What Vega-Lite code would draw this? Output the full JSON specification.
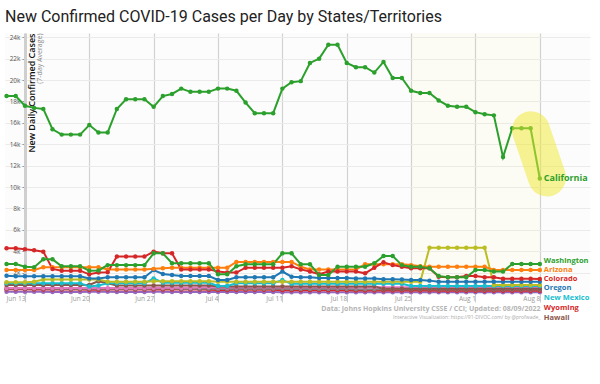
{
"$schema":"https://vega.github.io/schema/vega-lite/v6.json",
"width":585,"height":261,
"autosize":{"type":"none"},
"padding":{"left":5,"top":33,"right":10,"bottom":90},
"background":"white",
"title":{"text":"New Confirmed COVID-19 Cases per Day by States/Territories","anchor":"start","frame":"group","fontSize":16,"font":"Roboto","fontWeight":400,"color":"#222","offset":8},
"config":{"view":{"stroke":null,"fill":"#fcfcfc"},"font":"Open Sans"},
"datasets":{
"names":[{"s":"CA","name":"California"},{"s":"WA","name":"Washington"},{"s":"AZ","name":"Arizona"},{"s":"CO","name":"Colorado"},{"s":"OR","name":"Oregon"},{"s":"WY","name":"Wyoming"},{"s":"NM","name":"New Mexico"},{"s":"HI","name":"Hawaii"}],
"band":[{"a":"2022-07-25","b":"2022-08-08"}],
"hl":[{"d":"2022-08-07T01:00:00Z","v":15300},{"d":"2022-08-08T18:50:00Z","v":10900}],
"series":[
{"s":"AK","d":"2022-06-11","v":200},{"s":"AK","d":"2022-06-12","v":200},{"s":"AK","d":"2022-06-13","v":210},{"s":"AK","d":"2022-06-14","v":210},{"s":"AK","d":"2022-06-15","v":200},{"s":"AK","d":"2022-06-16","v":190},{"s":"AK","d":"2022-06-17","v":190},{"s":"AK","d":"2022-06-18","v":190},{"s":"AK","d":"2022-06-19","v":190},{"s":"AK","d":"2022-06-20","v":200},{"s":"AK","d":"2022-06-21","v":200},{"s":"AK","d":"2022-06-22","v":200},{"s":"AK","d":"2022-06-23","v":190},{"s":"AK","d":"2022-06-24","v":190},{"s":"AK","d":"2022-06-25","v":190},{"s":"AK","d":"2022-06-26","v":190},{"s":"AK","d":"2022-06-27","v":200},{"s":"AK","d":"2022-06-28","v":200},{"s":"AK","d":"2022-06-29","v":190},{"s":"AK","d":"2022-06-30","v":190},{"s":"AK","d":"2022-07-01","v":190},{"s":"AK","d":"2022-07-02","v":190},{"s":"AK","d":"2022-07-03","v":180},{"s":"AK","d":"2022-07-04","v":180},{"s":"AK","d":"2022-07-05","v":180},{"s":"AK","d":"2022-07-06","v":190},{"s":"AK","d":"2022-07-07","v":190},{"s":"AK","d":"2022-07-08","v":190},{"s":"AK","d":"2022-07-09","v":190},{"s":"AK","d":"2022-07-10","v":190},{"s":"AK","d":"2022-07-11","v":170},{"s":"AK","d":"2022-07-12","v":170},{"s":"AK","d":"2022-07-13","v":170},{"s":"AK","d":"2022-07-14","v":170},{"s":"AK","d":"2022-07-15","v":170},{"s":"AK","d":"2022-07-16","v":170},{"s":"AK","d":"2022-07-17","v":170},{"s":"AK","d":"2022-07-18","v":160},{"s":"AK","d":"2022-07-19","v":160},{"s":"AK","d":"2022-07-20","v":160},{"s":"AK","d":"2022-07-21","v":160},{"s":"AK","d":"2022-07-22","v":170},{"s":"AK","d":"2022-07-23","v":170},{"s":"AK","d":"2022-07-24","v":170},{"s":"AK","d":"2022-07-25","v":170},{"s":"AK","d":"2022-07-26","v":170},{"s":"AK","d":"2022-07-27","v":170},{"s":"AK","d":"2022-07-28","v":170},{"s":"AK","d":"2022-07-29","v":160},{"s":"AK","d":"2022-07-30","v":160},{"s":"AK","d":"2022-07-31","v":160},{"s":"AK","d":"2022-08-01","v":160},{"s":"AK","d":"2022-08-02","v":160},{"s":"AK","d":"2022-08-03","v":160},{"s":"AK","d":"2022-08-04","v":160},{"s":"AK","d":"2022-08-05","v":160},{"s":"AK","d":"2022-08-06","v":160},{"s":"AK","d":"2022-08-07","v":160},{"s":"AK","d":"2022-08-08","v":160},
{"s":"WY","d":"2022-06-11","v":450},{"s":"WY","d":"2022-06-12","v":450},{"s":"WY","d":"2022-06-13","v":440},{"s":"WY","d":"2022-06-14","v":430},{"s":"WY","d":"2022-06-15","v":430},{"s":"WY","d":"2022-06-16","v":420},{"s":"WY","d":"2022-06-17","v":420},{"s":"WY","d":"2022-06-18","v":420},{"s":"WY","d":"2022-06-19","v":420},{"s":"WY","d":"2022-06-20","v":400},{"s":"WY","d":"2022-06-21","v":400},{"s":"WY","d":"2022-06-22","v":410},{"s":"WY","d":"2022-06-23","v":420},{"s":"WY","d":"2022-06-24","v":420},{"s":"WY","d":"2022-06-25","v":420},{"s":"WY","d":"2022-06-26","v":420},{"s":"WY","d":"2022-06-27","v":430},{"s":"WY","d":"2022-06-28","v":430},{"s":"WY","d":"2022-06-29","v":420},{"s":"WY","d":"2022-06-30","v":420},{"s":"WY","d":"2022-07-01","v":420},{"s":"WY","d":"2022-07-02","v":420},{"s":"WY","d":"2022-07-03","v":400},{"s":"WY","d":"2022-07-04","v":380},{"s":"WY","d":"2022-07-05","v":380},{"s":"WY","d":"2022-07-06","v":400},{"s":"WY","d":"2022-07-07","v":400},{"s":"WY","d":"2022-07-08","v":400},{"s":"WY","d":"2022-07-09","v":400},{"s":"WY","d":"2022-07-10","v":400},{"s":"WY","d":"2022-07-11","v":360},{"s":"WY","d":"2022-07-12","v":360},{"s":"WY","d":"2022-07-13","v":350},{"s":"WY","d":"2022-07-14","v":350},{"s":"WY","d":"2022-07-15","v":340},{"s":"WY","d":"2022-07-16","v":340},{"s":"WY","d":"2022-07-17","v":340},{"s":"WY","d":"2022-07-18","v":340},{"s":"WY","d":"2022-07-19","v":330},{"s":"WY","d":"2022-07-20","v":330},{"s":"WY","d":"2022-07-21","v":330},{"s":"WY","d":"2022-07-22","v":330},{"s":"WY","d":"2022-07-23","v":330},{"s":"WY","d":"2022-07-24","v":320},{"s":"WY","d":"2022-07-25","v":320},{"s":"WY","d":"2022-07-26","v":320},{"s":"WY","d":"2022-07-27","v":320},{"s":"WY","d":"2022-07-28","v":310},{"s":"WY","d":"2022-07-29","v":310},{"s":"WY","d":"2022-07-30","v":310},{"s":"WY","d":"2022-07-31","v":310},{"s":"WY","d":"2022-08-01","v":310},{"s":"WY","d":"2022-08-02","v":310},{"s":"WY","d":"2022-08-03","v":300},{"s":"WY","d":"2022-08-04","v":300},{"s":"WY","d":"2022-08-05","v":300},{"s":"WY","d":"2022-08-06","v":300},{"s":"WY","d":"2022-08-07","v":300},{"s":"WY","d":"2022-08-08","v":300},
{"s":"ID","d":"2022-06-11","v":520},{"s":"ID","d":"2022-06-12","v":520},{"s":"ID","d":"2022-06-13","v":510},{"s":"ID","d":"2022-06-14","v":510},{"s":"ID","d":"2022-06-15","v":510},{"s":"ID","d":"2022-06-16","v":500},{"s":"ID","d":"2022-06-17","v":500},{"s":"ID","d":"2022-06-18","v":500},{"s":"ID","d":"2022-06-19","v":500},{"s":"ID","d":"2022-06-20","v":480},{"s":"ID","d":"2022-06-21","v":480},{"s":"ID","d":"2022-06-22","v":500},{"s":"ID","d":"2022-06-23","v":500},{"s":"ID","d":"2022-06-24","v":500},{"s":"ID","d":"2022-06-25","v":500},{"s":"ID","d":"2022-06-26","v":500},{"s":"ID","d":"2022-06-27","v":520},{"s":"ID","d":"2022-06-28","v":510},{"s":"ID","d":"2022-06-29","v":510},{"s":"ID","d":"2022-06-30","v":500},{"s":"ID","d":"2022-07-01","v":500},{"s":"ID","d":"2022-07-02","v":500},{"s":"ID","d":"2022-07-03","v":500},{"s":"ID","d":"2022-07-04","v":460},{"s":"ID","d":"2022-07-05","v":460},{"s":"ID","d":"2022-07-06","v":480},{"s":"ID","d":"2022-07-07","v":480},{"s":"ID","d":"2022-07-08","v":480},{"s":"ID","d":"2022-07-09","v":480},{"s":"ID","d":"2022-07-10","v":480},{"s":"ID","d":"2022-07-11","v":480},{"s":"ID","d":"2022-07-12","v":470},{"s":"ID","d":"2022-07-13","v":470},{"s":"ID","d":"2022-07-14","v":470},{"s":"ID","d":"2022-07-15","v":460},{"s":"ID","d":"2022-07-16","v":460},{"s":"ID","d":"2022-07-17","v":460},{"s":"ID","d":"2022-07-18","v":460},{"s":"ID","d":"2022-07-19","v":450},{"s":"ID","d":"2022-07-20","v":450},{"s":"ID","d":"2022-07-21","v":450},{"s":"ID","d":"2022-07-22","v":450},{"s":"ID","d":"2022-07-23","v":450},{"s":"ID","d":"2022-07-24","v":440},{"s":"ID","d":"2022-07-25","v":440},{"s":"ID","d":"2022-07-26","v":440},{"s":"ID","d":"2022-07-27","v":440},{"s":"ID","d":"2022-07-28","v":430},{"s":"ID","d":"2022-07-29","v":430},{"s":"ID","d":"2022-07-30","v":430},{"s":"ID","d":"2022-07-31","v":430},{"s":"ID","d":"2022-08-01","v":430},{"s":"ID","d":"2022-08-02","v":430},{"s":"ID","d":"2022-08-03","v":420},{"s":"ID","d":"2022-08-04","v":420},{"s":"ID","d":"2022-08-05","v":420},{"s":"ID","d":"2022-08-06","v":420},{"s":"ID","d":"2022-08-07","v":420},{"s":"ID","d":"2022-08-08","v":420},
{"s":"NV","d":"2022-06-11","v":560},{"s":"NV","d":"2022-06-12","v":560},{"s":"NV","d":"2022-06-13","v":560},{"s":"NV","d":"2022-06-14","v":560},{"s":"NV","d":"2022-06-15","v":560},{"s":"NV","d":"2022-06-16","v":550},{"s":"NV","d":"2022-06-17","v":550},{"s":"NV","d":"2022-06-18","v":550},{"s":"NV","d":"2022-06-19","v":550},{"s":"NV","d":"2022-06-20","v":550},{"s":"NV","d":"2022-06-21","v":550},{"s":"NV","d":"2022-06-22","v":550},{"s":"NV","d":"2022-06-23","v":560},{"s":"NV","d":"2022-06-24","v":560},{"s":"NV","d":"2022-06-25","v":560},{"s":"NV","d":"2022-06-26","v":560},{"s":"NV","d":"2022-06-27","v":580},{"s":"NV","d":"2022-06-28","v":580},{"s":"NV","d":"2022-06-29","v":580},{"s":"NV","d":"2022-06-30","v":580},{"s":"NV","d":"2022-07-01","v":580},{"s":"NV","d":"2022-07-02","v":620},{"s":"NV","d":"2022-07-03","v":620},{"s":"NV","d":"2022-07-04","v":600},{"s":"NV","d":"2022-07-05","v":600},{"s":"NV","d":"2022-07-06","v":620},{"s":"NV","d":"2022-07-07","v":620},{"s":"NV","d":"2022-07-08","v":620},{"s":"NV","d":"2022-07-09","v":620},{"s":"NV","d":"2022-07-10","v":620},{"s":"NV","d":"2022-07-11","v":640},{"s":"NV","d":"2022-07-12","v":640},{"s":"NV","d":"2022-07-13","v":630},{"s":"NV","d":"2022-07-14","v":630},{"s":"NV","d":"2022-07-15","v":630},{"s":"NV","d":"2022-07-16","v":630},{"s":"NV","d":"2022-07-17","v":630},{"s":"NV","d":"2022-07-18","v":640},{"s":"NV","d":"2022-07-19","v":640},{"s":"NV","d":"2022-07-20","v":640},{"s":"NV","d":"2022-07-21","v":640},{"s":"NV","d":"2022-07-22","v":640},{"s":"NV","d":"2022-07-23","v":640},{"s":"NV","d":"2022-07-24","v":640},{"s":"NV","d":"2022-07-25","v":640},{"s":"NV","d":"2022-07-26","v":650},{"s":"NV","d":"2022-07-27","v":650},{"s":"NV","d":"2022-07-28","v":650},{"s":"NV","d":"2022-07-29","v":650},{"s":"NV","d":"2022-07-30","v":650},{"s":"NV","d":"2022-07-31","v":650},{"s":"NV","d":"2022-08-01","v":650},{"s":"NV","d":"2022-08-02","v":650},{"s":"NV","d":"2022-08-03","v":650},{"s":"NV","d":"2022-08-04","v":650},{"s":"NV","d":"2022-08-05","v":650},{"s":"NV","d":"2022-08-06","v":650},{"s":"NV","d":"2022-08-07","v":650},{"s":"NV","d":"2022-08-08","v":650},
{"s":"HI","d":"2022-06-11","v":850},{"s":"HI","d":"2022-06-12","v":850},{"s":"HI","d":"2022-06-13","v":850},{"s":"HI","d":"2022-06-14","v":850},{"s":"HI","d":"2022-06-15","v":850},{"s":"HI","d":"2022-06-16","v":850},{"s":"HI","d":"2022-06-17","v":850},{"s":"HI","d":"2022-06-18","v":850},{"s":"HI","d":"2022-06-19","v":850},{"s":"HI","d":"2022-06-20","v":850},{"s":"HI","d":"2022-06-21","v":1200},{"s":"HI","d":"2022-06-22","v":1000},{"s":"HI","d":"2022-06-23","v":800},{"s":"HI","d":"2022-06-24","v":800},{"s":"HI","d":"2022-06-25","v":800},{"s":"HI","d":"2022-06-26","v":800},{"s":"HI","d":"2022-06-27","v":800},{"s":"HI","d":"2022-06-28","v":800},{"s":"HI","d":"2022-06-29","v":800},{"s":"HI","d":"2022-06-30","v":800},{"s":"HI","d":"2022-07-01","v":800},{"s":"HI","d":"2022-07-02","v":800},{"s":"HI","d":"2022-07-03","v":800},{"s":"HI","d":"2022-07-04","v":700},{"s":"HI","d":"2022-07-05","v":700},{"s":"HI","d":"2022-07-06","v":700},{"s":"HI","d":"2022-07-07","v":700},{"s":"HI","d":"2022-07-08","v":700},{"s":"HI","d":"2022-07-09","v":700},{"s":"HI","d":"2022-07-10","v":700},{"s":"HI","d":"2022-07-11","v":700},{"s":"HI","d":"2022-07-12","v":700},{"s":"HI","d":"2022-07-13","v":700},{"s":"HI","d":"2022-07-14","v":700},{"s":"HI","d":"2022-07-15","v":700},{"s":"HI","d":"2022-07-16","v":700},{"s":"HI","d":"2022-07-17","v":700},{"s":"HI","d":"2022-07-18","v":700},{"s":"HI","d":"2022-07-19","v":700},{"s":"HI","d":"2022-07-20","v":700},{"s":"HI","d":"2022-07-21","v":700},{"s":"HI","d":"2022-07-22","v":500},{"s":"HI","d":"2022-07-23","v":500},{"s":"HI","d":"2022-07-24","v":500},{"s":"HI","d":"2022-07-25","v":500},{"s":"HI","d":"2022-07-26","v":500},{"s":"HI","d":"2022-07-27","v":500},{"s":"HI","d":"2022-07-28","v":500},{"s":"HI","d":"2022-07-29","v":500},{"s":"HI","d":"2022-07-30","v":500},{"s":"HI","d":"2022-07-31","v":500},{"s":"HI","d":"2022-08-01","v":500},{"s":"HI","d":"2022-08-02","v":500},{"s":"HI","d":"2022-08-03","v":500},{"s":"HI","d":"2022-08-04","v":500},{"s":"HI","d":"2022-08-05","v":500},{"s":"HI","d":"2022-08-06","v":500},{"s":"HI","d":"2022-08-07","v":500},{"s":"HI","d":"2022-08-08","v":500},
{"s":"NM","d":"2022-06-11","v":1000},{"s":"NM","d":"2022-06-12","v":1000},{"s":"NM","d":"2022-06-13","v":1000},{"s":"NM","d":"2022-06-14","v":1000},{"s":"NM","d":"2022-06-15","v":1000},{"s":"NM","d":"2022-06-16","v":1000},{"s":"NM","d":"2022-06-17","v":1000},{"s":"NM","d":"2022-06-18","v":1000},{"s":"NM","d":"2022-06-19","v":1000},{"s":"NM","d":"2022-06-20","v":700},{"s":"NM","d":"2022-06-21","v":800},{"s":"NM","d":"2022-06-22","v":1000},{"s":"NM","d":"2022-06-23","v":1000},{"s":"NM","d":"2022-06-24","v":1000},{"s":"NM","d":"2022-06-25","v":1000},{"s":"NM","d":"2022-06-26","v":1000},{"s":"NM","d":"2022-06-27","v":1460},{"s":"NM","d":"2022-06-28","v":1050},{"s":"NM","d":"2022-06-29","v":1050},{"s":"NM","d":"2022-06-30","v":1050},{"s":"NM","d":"2022-07-01","v":1050},{"s":"NM","d":"2022-07-02","v":1050},{"s":"NM","d":"2022-07-03","v":1050},{"s":"NM","d":"2022-07-04","v":750},{"s":"NM","d":"2022-07-05","v":750},{"s":"NM","d":"2022-07-06","v":1000},{"s":"NM","d":"2022-07-07","v":1000},{"s":"NM","d":"2022-07-08","v":1000},{"s":"NM","d":"2022-07-09","v":1000},{"s":"NM","d":"2022-07-10","v":1000},{"s":"NM","d":"2022-07-11","v":1300},{"s":"NM","d":"2022-07-12","v":950},{"s":"NM","d":"2022-07-13","v":950},{"s":"NM","d":"2022-07-14","v":950},{"s":"NM","d":"2022-07-15","v":950},{"s":"NM","d":"2022-07-16","v":950},{"s":"NM","d":"2022-07-17","v":950},{"s":"NM","d":"2022-07-18","v":950},{"s":"NM","d":"2022-07-19","v":950},{"s":"NM","d":"2022-07-20","v":950},{"s":"NM","d":"2022-07-21","v":950},{"s":"NM","d":"2022-07-22","v":950},{"s":"NM","d":"2022-07-23","v":950},{"s":"NM","d":"2022-07-24","v":950},{"s":"NM","d":"2022-07-25","v":750},{"s":"NM","d":"2022-07-26","v":750},{"s":"NM","d":"2022-07-27","v":750},{"s":"NM","d":"2022-07-28","v":750},{"s":"NM","d":"2022-07-29","v":750},{"s":"NM","d":"2022-07-30","v":750},{"s":"NM","d":"2022-07-31","v":750},{"s":"NM","d":"2022-08-01","v":750},{"s":"NM","d":"2022-08-02","v":750},{"s":"NM","d":"2022-08-03","v":750},{"s":"NM","d":"2022-08-04","v":750},{"s":"NM","d":"2022-08-05","v":750},{"s":"NM","d":"2022-08-06","v":750},{"s":"NM","d":"2022-08-07","v":750},{"s":"NM","d":"2022-08-08","v":750},
{"s":"UT","d":"2022-06-11","v":1100},{"s":"UT","d":"2022-06-12","v":1100},{"s":"UT","d":"2022-06-13","v":1100},{"s":"UT","d":"2022-06-14","v":1150},{"s":"UT","d":"2022-06-15","v":1350},{"s":"UT","d":"2022-06-16","v":1350},{"s":"UT","d":"2022-06-17","v":1350},{"s":"UT","d":"2022-06-18","v":1350},{"s":"UT","d":"2022-06-19","v":1350},{"s":"UT","d":"2022-06-20","v":1350},{"s":"UT","d":"2022-06-21","v":1350},{"s":"UT","d":"2022-06-22","v":1150},{"s":"UT","d":"2022-06-23","v":1150},{"s":"UT","d":"2022-06-24","v":1150},{"s":"UT","d":"2022-06-25","v":1150},{"s":"UT","d":"2022-06-26","v":1150},{"s":"UT","d":"2022-06-27","v":1200},{"s":"UT","d":"2022-06-28","v":1200},{"s":"UT","d":"2022-06-29","v":1200},{"s":"UT","d":"2022-06-30","v":1200},{"s":"UT","d":"2022-07-01","v":1200},{"s":"UT","d":"2022-07-02","v":1200},{"s":"UT","d":"2022-07-03","v":1200},{"s":"UT","d":"2022-07-04","v":1150},{"s":"UT","d":"2022-07-05","v":1150},{"s":"UT","d":"2022-07-06","v":1150},{"s":"UT","d":"2022-07-07","v":1150},{"s":"UT","d":"2022-07-08","v":1150},{"s":"UT","d":"2022-07-09","v":1150},{"s":"UT","d":"2022-07-10","v":1150},{"s":"UT","d":"2022-07-11","v":1150},{"s":"UT","d":"2022-07-12","v":1150},{"s":"UT","d":"2022-07-13","v":1150},{"s":"UT","d":"2022-07-14","v":1150},{"s":"UT","d":"2022-07-15","v":1150},{"s":"UT","d":"2022-07-16","v":1150},{"s":"UT","d":"2022-07-17","v":1150},{"s":"UT","d":"2022-07-18","v":1150},{"s":"UT","d":"2022-07-19","v":1150},{"s":"UT","d":"2022-07-20","v":1150},{"s":"UT","d":"2022-07-21","v":1150},{"s":"UT","d":"2022-07-22","v":1150},{"s":"UT","d":"2022-07-23","v":1150},{"s":"UT","d":"2022-07-24","v":1150},{"s":"UT","d":"2022-07-25","v":1150},{"s":"UT","d":"2022-07-26","v":1150},{"s":"UT","d":"2022-07-27","v":4330},{"s":"UT","d":"2022-07-28","v":4330},{"s":"UT","d":"2022-07-29","v":4330},{"s":"UT","d":"2022-07-30","v":4330},{"s":"UT","d":"2022-07-31","v":4330},{"s":"UT","d":"2022-08-01","v":4330},{"s":"UT","d":"2022-08-02","v":4330},{"s":"UT","d":"2022-08-03","v":840},{"s":"UT","d":"2022-08-04","v":840},{"s":"UT","d":"2022-08-05","v":840},{"s":"UT","d":"2022-08-06","v":840},{"s":"UT","d":"2022-08-07","v":840},{"s":"UT","d":"2022-08-08","v":840},
{"s":"OR","d":"2022-06-11","v":1710},{"s":"OR","d":"2022-06-12","v":1650},{"s":"OR","d":"2022-06-13","v":1650},{"s":"OR","d":"2022-06-14","v":1650},{"s":"OR","d":"2022-06-15","v":1650},{"s":"OR","d":"2022-06-16","v":1650},{"s":"OR","d":"2022-06-17","v":1650},{"s":"OR","d":"2022-06-18","v":1650},{"s":"OR","d":"2022-06-19","v":1650},{"s":"OR","d":"2022-06-20","v":1460},{"s":"OR","d":"2022-06-21","v":1460},{"s":"OR","d":"2022-06-22","v":1560},{"s":"OR","d":"2022-06-23","v":1560},{"s":"OR","d":"2022-06-24","v":1560},{"s":"OR","d":"2022-06-25","v":1560},{"s":"OR","d":"2022-06-26","v":1560},{"s":"OR","d":"2022-06-27","v":2240},{"s":"OR","d":"2022-06-28","v":1870},{"s":"OR","d":"2022-06-29","v":1780},{"s":"OR","d":"2022-06-30","v":1680},{"s":"OR","d":"2022-07-01","v":1680},{"s":"OR","d":"2022-07-02","v":1680},{"s":"OR","d":"2022-07-03","v":1680},{"s":"OR","d":"2022-07-04","v":1310},{"s":"OR","d":"2022-07-05","v":1310},{"s":"OR","d":"2022-07-06","v":1560},{"s":"OR","d":"2022-07-07","v":1560},{"s":"OR","d":"2022-07-08","v":1560},{"s":"OR","d":"2022-07-09","v":1560},{"s":"OR","d":"2022-07-10","v":1560},{"s":"OR","d":"2022-07-11","v":2100},{"s":"OR","d":"2022-07-12","v":1620},{"s":"OR","d":"2022-07-13","v":1560},{"s":"OR","d":"2022-07-14","v":1560},{"s":"OR","d":"2022-07-15","v":1500},{"s":"OR","d":"2022-07-16","v":1500},{"s":"OR","d":"2022-07-17","v":1500},{"s":"OR","d":"2022-07-18","v":1500},{"s":"OR","d":"2022-07-19","v":1450},{"s":"OR","d":"2022-07-20","v":1450},{"s":"OR","d":"2022-07-21","v":1450},{"s":"OR","d":"2022-07-22","v":1370},{"s":"OR","d":"2022-07-23","v":1370},{"s":"OR","d":"2022-07-24","v":1350},{"s":"OR","d":"2022-07-25","v":1310},{"s":"OR","d":"2022-07-26","v":1310},{"s":"OR","d":"2022-07-27","v":1250},{"s":"OR","d":"2022-07-28","v":1150},{"s":"OR","d":"2022-07-29","v":1150},{"s":"OR","d":"2022-07-30","v":1150},{"s":"OR","d":"2022-07-31","v":1150},{"s":"OR","d":"2022-08-01","v":1150},{"s":"OR","d":"2022-08-02","v":1150},{"s":"OR","d":"2022-08-03","v":1150},{"s":"OR","d":"2022-08-04","v":1150},{"s":"OR","d":"2022-08-05","v":1150},{"s":"OR","d":"2022-08-06","v":1150},{"s":"OR","d":"2022-08-07","v":1150},{"s":"OR","d":"2022-08-08","v":1150},
{"s":"AZ","d":"2022-06-11","v":2240},{"s":"AZ","d":"2022-06-12","v":2240},{"s":"AZ","d":"2022-06-13","v":2240},{"s":"AZ","d":"2022-06-14","v":2240},{"s":"AZ","d":"2022-06-15","v":2500},{"s":"AZ","d":"2022-06-16","v":2500},{"s":"AZ","d":"2022-06-17","v":2500},{"s":"AZ","d":"2022-06-18","v":2500},{"s":"AZ","d":"2022-06-19","v":2500},{"s":"AZ","d":"2022-06-20","v":2500},{"s":"AZ","d":"2022-06-21","v":2500},{"s":"AZ","d":"2022-06-22","v":2300},{"s":"AZ","d":"2022-06-23","v":2300},{"s":"AZ","d":"2022-06-24","v":2300},{"s":"AZ","d":"2022-06-25","v":2300},{"s":"AZ","d":"2022-06-26","v":2300},{"s":"AZ","d":"2022-06-27","v":2350},{"s":"AZ","d":"2022-06-28","v":2400},{"s":"AZ","d":"2022-06-29","v":2460},{"s":"AZ","d":"2022-06-30","v":2460},{"s":"AZ","d":"2022-07-01","v":2460},{"s":"AZ","d":"2022-07-02","v":2460},{"s":"AZ","d":"2022-07-03","v":2460},{"s":"AZ","d":"2022-07-04","v":2460},{"s":"AZ","d":"2022-07-05","v":2460},{"s":"AZ","d":"2022-07-06","v":3000},{"s":"AZ","d":"2022-07-07","v":3000},{"s":"AZ","d":"2022-07-08","v":3000},{"s":"AZ","d":"2022-07-09","v":3000},{"s":"AZ","d":"2022-07-10","v":3000},{"s":"AZ","d":"2022-07-11","v":3000},{"s":"AZ","d":"2022-07-12","v":3000},{"s":"AZ","d":"2022-07-13","v":2550},{"s":"AZ","d":"2022-07-14","v":2300},{"s":"AZ","d":"2022-07-15","v":2300},{"s":"AZ","d":"2022-07-16","v":2300},{"s":"AZ","d":"2022-07-17","v":2300},{"s":"AZ","d":"2022-07-18","v":2300},{"s":"AZ","d":"2022-07-19","v":2300},{"s":"AZ","d":"2022-07-20","v":2780},{"s":"AZ","d":"2022-07-21","v":2780},{"s":"AZ","d":"2022-07-22","v":2780},{"s":"AZ","d":"2022-07-23","v":2780},{"s":"AZ","d":"2022-07-24","v":2780},{"s":"AZ","d":"2022-07-25","v":2700},{"s":"AZ","d":"2022-07-26","v":2600},{"s":"AZ","d":"2022-07-27","v":2550},{"s":"AZ","d":"2022-07-28","v":2550},{"s":"AZ","d":"2022-07-29","v":2550},{"s":"AZ","d":"2022-07-30","v":2550},{"s":"AZ","d":"2022-07-31","v":2550},{"s":"AZ","d":"2022-08-01","v":2550},{"s":"AZ","d":"2022-08-02","v":2550},{"s":"AZ","d":"2022-08-03","v":2240},{"s":"AZ","d":"2022-08-04","v":2240},{"s":"AZ","d":"2022-08-05","v":2240},{"s":"AZ","d":"2022-08-06","v":2240},{"s":"AZ","d":"2022-08-07","v":2240},{"s":"AZ","d":"2022-08-08","v":2240},
{"s":"CO","d":"2022-06-11","v":4270},{"s":"CO","d":"2022-06-12","v":4270},{"s":"CO","d":"2022-06-13","v":4180},{"s":"CO","d":"2022-06-14","v":4100},{"s":"CO","d":"2022-06-15","v":3960},{"s":"CO","d":"2022-06-16","v":2340},{"s":"CO","d":"2022-06-17","v":2180},{"s":"CO","d":"2022-06-18","v":2180},{"s":"CO","d":"2022-06-19","v":2180},{"s":"CO","d":"2022-06-20","v":1840},{"s":"CO","d":"2022-06-21","v":2000},{"s":"CO","d":"2022-06-22","v":2030},{"s":"CO","d":"2022-06-23","v":3500},{"s":"CO","d":"2022-06-24","v":3500},{"s":"CO","d":"2022-06-25","v":3500},{"s":"CO","d":"2022-06-26","v":3500},{"s":"CO","d":"2022-06-27","v":3960},{"s":"CO","d":"2022-06-28","v":3800},{"s":"CO","d":"2022-06-29","v":3800},{"s":"CO","d":"2022-06-30","v":2300},{"s":"CO","d":"2022-07-01","v":2300},{"s":"CO","d":"2022-07-02","v":2300},{"s":"CO","d":"2022-07-03","v":2300},{"s":"CO","d":"2022-07-04","v":2100},{"s":"CO","d":"2022-07-05","v":2000},{"s":"CO","d":"2022-07-06","v":2000},{"s":"CO","d":"2022-07-07","v":2460},{"s":"CO","d":"2022-07-08","v":2460},{"s":"CO","d":"2022-07-09","v":2460},{"s":"CO","d":"2022-07-10","v":2460},{"s":"CO","d":"2022-07-11","v":2460},{"s":"CO","d":"2022-07-12","v":2600},{"s":"CO","d":"2022-07-13","v":2300},{"s":"CO","d":"2022-07-14","v":2100},{"s":"CO","d":"2022-07-15","v":1840},{"s":"CO","d":"2022-07-16","v":2100},{"s":"CO","d":"2022-07-17","v":2100},{"s":"CO","d":"2022-07-18","v":2100},{"s":"CO","d":"2022-07-19","v":2100},{"s":"CO","d":"2022-07-20","v":1930},{"s":"CO","d":"2022-07-21","v":2460},{"s":"CO","d":"2022-07-22","v":2960},{"s":"CO","d":"2022-07-23","v":2700},{"s":"CO","d":"2022-07-24","v":2550},{"s":"CO","d":"2022-07-25","v":2400},{"s":"CO","d":"2022-07-26","v":2400},{"s":"CO","d":"2022-07-27","v":2400},{"s":"CO","d":"2022-07-28","v":1620},{"s":"CO","d":"2022-07-29","v":1560},{"s":"CO","d":"2022-07-30","v":1560},{"s":"CO","d":"2022-07-31","v":1680},{"s":"CO","d":"2022-08-01","v":1680},{"s":"CO","d":"2022-08-02","v":1560},{"s":"CO","d":"2022-08-03","v":1560},{"s":"CO","d":"2022-08-04","v":1430},{"s":"CO","d":"2022-08-05","v":1430},{"s":"CO","d":"2022-08-06","v":1430},{"s":"CO","d":"2022-08-07","v":1430},{"s":"CO","d":"2022-08-08","v":1400},
{"s":"WA","d":"2022-06-11","v":2800},{"s":"WA","d":"2022-06-12","v":2800},{"s":"WA","d":"2022-06-13","v":2550},{"s":"WA","d":"2022-06-14","v":2500},{"s":"WA","d":"2022-06-15","v":3240},{"s":"WA","d":"2022-06-16","v":3240},{"s":"WA","d":"2022-06-17","v":2600},{"s":"WA","d":"2022-06-18","v":2600},{"s":"WA","d":"2022-06-19","v":2600},{"s":"WA","d":"2022-06-20","v":2180},{"s":"WA","d":"2022-06-21","v":2200},{"s":"WA","d":"2022-06-22","v":2700},{"s":"WA","d":"2022-06-23","v":2700},{"s":"WA","d":"2022-06-24","v":2700},{"s":"WA","d":"2022-06-25","v":2700},{"s":"WA","d":"2022-06-26","v":2700},{"s":"WA","d":"2022-06-27","v":3800},{"s":"WA","d":"2022-06-28","v":3800},{"s":"WA","d":"2022-06-29","v":2870},{"s":"WA","d":"2022-06-30","v":2870},{"s":"WA","d":"2022-07-01","v":2870},{"s":"WA","d":"2022-07-02","v":2870},{"s":"WA","d":"2022-07-03","v":2870},{"s":"WA","d":"2022-07-04","v":1840},{"s":"WA","d":"2022-07-05","v":1840},{"s":"WA","d":"2022-07-06","v":2600},{"s":"WA","d":"2022-07-07","v":2780},{"s":"WA","d":"2022-07-08","v":2780},{"s":"WA","d":"2022-07-09","v":2780},{"s":"WA","d":"2022-07-10","v":2780},{"s":"WA","d":"2022-07-11","v":3800},{"s":"WA","d":"2022-07-12","v":3800},{"s":"WA","d":"2022-07-13","v":2780},{"s":"WA","d":"2022-07-14","v":2780},{"s":"WA","d":"2022-07-15","v":1780},{"s":"WA","d":"2022-07-16","v":1780},{"s":"WA","d":"2022-07-17","v":2550},{"s":"WA","d":"2022-07-18","v":2550},{"s":"WA","d":"2022-07-19","v":2550},{"s":"WA","d":"2022-07-20","v":2550},{"s":"WA","d":"2022-07-21","v":2870},{"s":"WA","d":"2022-07-22","v":3550},{"s":"WA","d":"2022-07-23","v":3550},{"s":"WA","d":"2022-07-24","v":2700},{"s":"WA","d":"2022-07-25","v":2550},{"s":"WA","d":"2022-07-26","v":2550},{"s":"WA","d":"2022-07-27","v":2400},{"s":"WA","d":"2022-07-28","v":1680},{"s":"WA","d":"2022-07-29","v":1560},{"s":"WA","d":"2022-07-30","v":1560},{"s":"WA","d":"2022-07-31","v":1560},{"s":"WA","d":"2022-08-01","v":2240},{"s":"WA","d":"2022-08-02","v":2240},{"s":"WA","d":"2022-08-03","v":2100},{"s":"WA","d":"2022-08-04","v":2100},{"s":"WA","d":"2022-08-05","v":2800},{"s":"WA","d":"2022-08-06","v":2800},{"s":"WA","d":"2022-08-07","v":2800},{"s":"WA","d":"2022-08-08","v":2800},
{"s":"CA","d":"2022-06-11","v":18500},{"s":"CA","d":"2022-06-12","v":18500},{"s":"CA","d":"2022-06-13","v":17600},{"s":"CA","d":"2022-06-14","v":17400},{"s":"CA","d":"2022-06-15","v":17300},{"s":"CA","d":"2022-06-16","v":15400},{"s":"CA","d":"2022-06-17","v":14900},{"s":"CA","d":"2022-06-18","v":14900},{"s":"CA","d":"2022-06-19","v":14900},{"s":"CA","d":"2022-06-20","v":15800},{"s":"CA","d":"2022-06-21","v":15100},{"s":"CA","d":"2022-06-22","v":15100},{"s":"CA","d":"2022-06-23","v":17300},{"s":"CA","d":"2022-06-24","v":18200},{"s":"CA","d":"2022-06-25","v":18200},{"s":"CA","d":"2022-06-26","v":18200},{"s":"CA","d":"2022-06-27","v":17500},{"s":"CA","d":"2022-06-28","v":18500},{"s":"CA","d":"2022-06-29","v":18700},{"s":"CA","d":"2022-06-30","v":19200},{"s":"CA","d":"2022-07-01","v":18900},{"s":"CA","d":"2022-07-02","v":18900},{"s":"CA","d":"2022-07-03","v":18900},{"s":"CA","d":"2022-07-04","v":19200},{"s":"CA","d":"2022-07-05","v":19200},{"s":"CA","d":"2022-07-06","v":19000},{"s":"CA","d":"2022-07-07","v":17900},{"s":"CA","d":"2022-07-08","v":16900},{"s":"CA","d":"2022-07-09","v":16900},{"s":"CA","d":"2022-07-10","v":16900},{"s":"CA","d":"2022-07-11","v":19200},{"s":"CA","d":"2022-07-12","v":19800},{"s":"CA","d":"2022-07-13","v":19900},{"s":"CA","d":"2022-07-14","v":21600},{"s":"CA","d":"2022-07-15","v":22000},{"s":"CA","d":"2022-07-16","v":23300},{"s":"CA","d":"2022-07-17","v":23300},{"s":"CA","d":"2022-07-18","v":21600},{"s":"CA","d":"2022-07-19","v":21200},{"s":"CA","d":"2022-07-20","v":21200},{"s":"CA","d":"2022-07-21","v":20700},{"s":"CA","d":"2022-07-22","v":21700},{"s":"CA","d":"2022-07-23","v":20200},{"s":"CA","d":"2022-07-24","v":20200},{"s":"CA","d":"2022-07-25","v":19000},{"s":"CA","d":"2022-07-26","v":18800},{"s":"CA","d":"2022-07-27","v":18800},{"s":"CA","d":"2022-07-28","v":18100},{"s":"CA","d":"2022-07-29","v":17600},{"s":"CA","d":"2022-07-30","v":17500},{"s":"CA","d":"2022-07-31","v":17500},{"s":"CA","d":"2022-08-01","v":17000},{"s":"CA","d":"2022-08-02","v":16800},{"s":"CA","d":"2022-08-03","v":16700},{"s":"CA","d":"2022-08-04","v":12800},{"s":"CA","d":"2022-08-05","v":15500},{"s":"CA","d":"2022-08-06","v":15500},{"s":"CA","d":"2022-08-07","v":15500},{"s":"CA","d":"2022-08-08","v":10800}
]},
"layer":[
{"data":{"name":"band"},"mark":{"type":"rect","color":"#ffff00","opacity":0.03},
 "encoding":{"x":{"field":"a","type":"temporal","axis":null,"scale":{"type":"utc","domain":[{"year":2022,"month":6,"date":10,"hours":20,"utc":true},{"year":2022,"month":8,"date":13,"hours":11,"utc":true}]}},"x2":{"field":"b"}}},
{"mark":{"type":"rule","color":"#bdbdbd","strokeWidth":2.5},
 "encoding":{"x":{"datum":{"year":2022,"month":8,"date":8,"utc":true},"type":"temporal","axis":null}}},
{"data":{"name":"series"},"mark":{"type":"line","strokeWidth":2,"point":{"filled":true,"size":20}},
 "encoding":{
  "x":{"field":"d","type":"temporal","scale":{"type":"utc","domain":[{"year":2022,"month":6,"date":10,"hours":20,"utc":true},{"year":2022,"month":8,"date":13,"hours":11,"utc":true}]},
   "axis":{"orient":"bottom","values":[{"year":2022,"month":6,"date":13,"utc":true},{"year":2022,"month":6,"date":20,"utc":true},{"year":2022,"month":6,"date":27,"utc":true},{"year":2022,"month":7,"date":4,"utc":true},{"year":2022,"month":7,"date":11,"utc":true},{"year":2022,"month":7,"date":18,"utc":true},{"year":2022,"month":7,"date":25,"utc":true},{"year":2022,"month":8,"date":1,"utc":true},{"year":2022,"month":8,"date":8,"utc":true}],
   "format":"%b %-d","labelAlign":"right","labelDx":-3,"labelBaseline":"middle","labelPadding":-3.5,"labelFontSize":6.5,"labelColor":"#999","labelOverlap":false,"labelFlush":false,"tickSize":8,"tickColor":"#ccc","domain":false,"grid":true,"gridColor":"#d2d2d2","gridWidth":1.2,
   "title":"Data: Johns Hopkins University CSSE / CCI; Updated: 08/09/2022","titleX":535,"titleY":14,"titleAlign":"right","titleBaseline":"middle","titleFontSize":7,"titleFontWeight":"bold","titleColor":"#b5b5b5"}},
  "y":{"field":"v","type":"quantitative","scale":{"domain":[0,24400],"nice":false},
   "axis":{"orient":"left","offset":-20,"values":[2000,4000,6000,8000,10000,12000,14000,16000,18000,20000,22000,24000],"format":"~s","labelFontSize":6.5,"labelColor":"#555","labelPadding":2,"tickSize":3,"tickColor":"#999","domainColor":"#cfcfcf","domainWidth":3,"grid":true,"gridColor":"#ebebeb",
   "title":"New Daily Confirmed Cases","titleX":6,"titleY":0,"titleAngle":-90,"titleAlign":"right","titleBaseline":"middle","titleFontSize":9,"titleFontWeight":600,"titleColor":"#111"}},
  "color":{"field":"s","type":"nominal","legend":null,"scale":{"domain":["AK","WY","ID","NV","HI","NM","UT","OR","AZ","CO","WA","CA"],"range":["#9467bd","#d62728","#7f7f7f","#e377c2","#8c564b","#17becf","#bcbd22","#1f77b4","#ff7f0e","#d62728","#2ca02c","#2ca02c"]}}
 }},
{"data":{"name":"hl"},"mark":{"type":"line","strokeWidth":38,"strokeCap":"round","color":"#f0e830","opacity":0.5},
 "encoding":{
  "x":{"field":"d","type":"temporal","axis":{"orient":"bottom","labels":false,"ticks":false,"domain":false,"grid":false,"title":"Interactive Visualization: https://91-DIVOC.com/ by @profwade_","titleX":535,"titleY":22,"titleAlign":"right","titleBaseline":"middle","titleFontSize":5,"titleFontWeight":"normal","titleColor":"#aaa"}},
  "y":{"field":"v","type":"quantitative","axis":{"orient":"left","offset":-20,"labels":false,"ticks":false,"domain":false,"grid":false,"title":"(7-day Average)","titleX":14.5,"titleY":0,"titleAngle":-90,"titleAlign":"right","titleBaseline":"middle","titleFontSize":7,"titleFontWeight":"normal","titleColor":"#888"}}
 }},
{"data":{"name":"series"},
 "transform":[{"filter":"time(toDate(datum.d)) === utc(2022,7,8)"},{"lookup":"s","from":{"data":{"name":"names"},"key":"s","fields":["name"]}},{"filter":"datum.name != null"}],
 "mark":{"type":"text","align":"left","baseline":"middle","dx":4,"fontWeight":"bold",
   "fontSize":{"expr":"datum.s==='CA' ? 9 : 7.5"},
   "dy":{"expr":"datum.s==='WA' ? -3 : datum.s==='AZ' ? 0 : datum.s==='CO' ? 0 : datum.s==='OR' ? 6.3 : datum.s==='NM' ? 12 : datum.s==='WY' ? 17.2 : datum.s==='HI' ? 29.3 : 0"}},
 "encoding":{"x":{"field":"d","type":"temporal","axis":null},"y":{"field":"v","type":"quantitative","axis":null},"text":{"field":"name"},"color":{"field":"s","type":"nominal","legend":null}}}
],
"resolve":{"scale":{"x":"shared","y":"shared"},"axis":{"x":"independent","y":"independent"}}
}
